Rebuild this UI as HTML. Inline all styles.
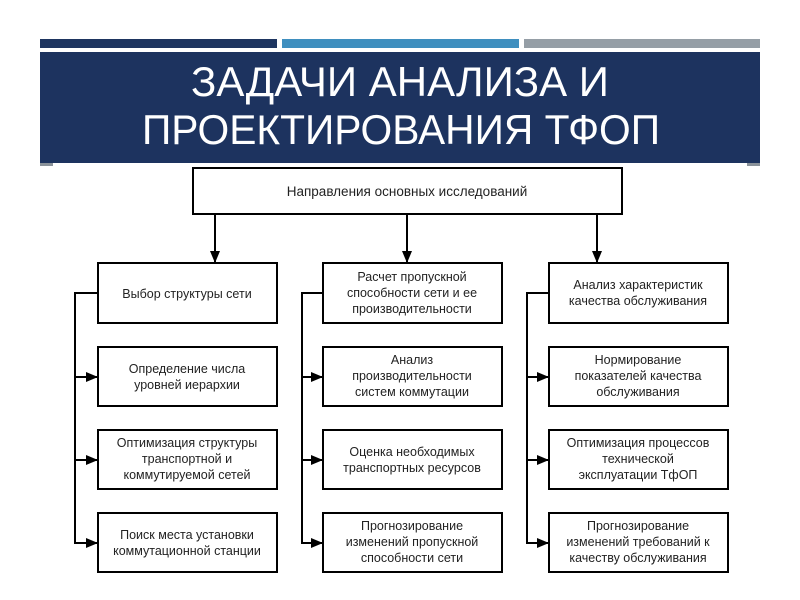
<!DOCTYPE html>
<html><head><meta charset="utf-8"><style>
html,body{margin:0;padding:0;background:#fff;}
svg{display:block;}
text{font-family:"Liberation Sans","DejaVu Sans",sans-serif;}
</style></head><body>
<svg width="800" height="600" viewBox="0 0 800 600" xmlns="http://www.w3.org/2000/svg">
<defs><marker id="a" markerWidth="12" markerHeight="10" refX="11" refY="5" orient="auto" markerUnits="userSpaceOnUse"><path d="M0,0 L12,5 L0,10 Z" fill="#000"/></marker></defs>
<rect x="40" y="39" width="237" height="9" fill="#1e3560"/>
<rect x="282" y="39" width="237" height="9" fill="#3f8fbf"/>
<rect x="524" y="39" width="236" height="9" fill="#959ea6"/>
<rect x="40" y="52" width="720" height="111" fill="#1d335f"/>
<rect x="40" y="163" width="13" height="3" fill="#8a929a"/>
<rect x="747" y="163" width="13" height="3" fill="#8a929a"/>
<g fill="#fff" font-size="42" text-anchor="middle">
<text x="400" y="96" textLength="418" lengthAdjust="spacingAndGlyphs">ЗАДАЧИ АНАЛИЗА И</text>
<text x="401" y="144" textLength="518" lengthAdjust="spacingAndGlyphs">ПРОЕКТИРОВАНИЯ ТФОП</text>
</g>
<g fill="none" stroke="#000" stroke-width="2">
<rect x="193" y="168" width="429" height="46"/>
<line x1="215" y1="214" x2="215" y2="262" marker-end="url(#a)"/>
<line x1="407" y1="214" x2="407" y2="262" marker-end="url(#a)"/>
<line x1="597" y1="214" x2="597" y2="262" marker-end="url(#a)"/>
<rect x="98" y="263" width="179" height="60"/><rect x="98" y="347" width="179" height="59"/><rect x="98" y="430" width="179" height="59"/><rect x="98" y="513" width="179" height="59"/>
<rect x="323" y="263" width="179" height="60"/><rect x="323" y="347" width="179" height="59"/><rect x="323" y="430" width="179" height="59"/><rect x="323" y="513" width="179" height="59"/>
<rect x="549" y="263" width="179" height="60"/><rect x="549" y="347" width="179" height="59"/><rect x="549" y="430" width="179" height="59"/><rect x="549" y="513" width="179" height="59"/>
<polyline points="98,293 75,293 75,543 97,543" marker-end="url(#a)"/>
<line x1="75" y1="377" x2="97" y2="377" marker-end="url(#a)"/>
<line x1="75" y1="460" x2="97" y2="460" marker-end="url(#a)"/>
<polyline points="323,293 302,293 302,543 322,543" marker-end="url(#a)"/>
<line x1="302" y1="377" x2="322" y2="377" marker-end="url(#a)"/>
<line x1="302" y1="460" x2="322" y2="460" marker-end="url(#a)"/>
<polyline points="549,293 527,293 527,543 548,543" marker-end="url(#a)"/>
<line x1="527" y1="377" x2="548" y2="377" marker-end="url(#a)"/>
<line x1="527" y1="460" x2="548" y2="460" marker-end="url(#a)"/>
</g>
<g fill="#222" font-size="12.5" text-anchor="middle">
<text x="407" y="196" font-size="13.5">Направления основных исследований</text>
<text x="187" y="298">Выбор структуры сети</text>
<text x="187" y="373">Определение числа</text><text x="187" y="389">уровней иерархии</text>
<text x="187" y="447">Оптимизация структуры</text><text x="187" y="463">транспортной и</text><text x="187" y="479">коммутируемой сетей</text>
<text x="187" y="539">Поиск места установки</text><text x="187" y="555">коммутационной станции</text>
<text x="412" y="281">Расчет  пропускной</text><text x="412" y="297">способности сети и ее</text><text x="412" y="313">производительности</text>
<text x="412" y="364">Анализ</text><text x="412" y="380">производительности</text><text x="412" y="396">систем коммутации</text>
<text x="412" y="456">Оценка необходимых</text><text x="412" y="472">транспортных ресурсов</text>
<text x="412" y="530">Прогнозирование</text><text x="412" y="546">изменений пропускной</text><text x="412" y="562">способности сети</text>
<text x="638" y="289">Анализ характеристик</text><text x="638" y="305">качества обслуживания</text>
<text x="638" y="364">Нормирование</text><text x="638" y="380">показателей качества</text><text x="638" y="396">обслуживания</text>
<text x="638" y="447">Оптимизация процессов</text><text x="638" y="463">технической</text><text x="638" y="479">эксплуатации ТфОП</text>
<text x="638" y="530">Прогнозирование</text><text x="638" y="546">изменений требований к</text><text x="638" y="562">качеству обслуживания</text>
</g>
</svg>
</body></html>
